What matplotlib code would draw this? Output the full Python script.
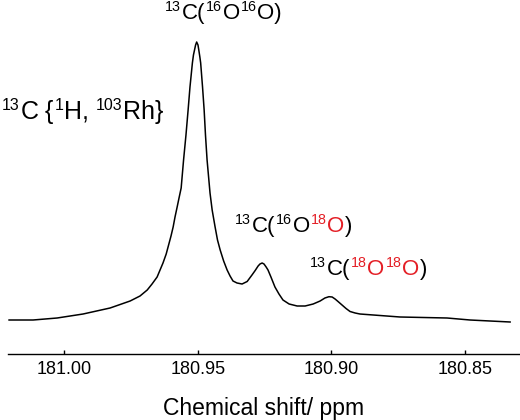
import matplotlib
matplotlib.use("Agg")
import matplotlib.pyplot as plt
from matplotlib.transforms import IdentityTransform

plt.rcParams['font.family'] = ['Liberation Sans', 'DejaVu Sans']

# 13C{1H,103Rh} spectrum, values
shift_ppm = [181.0206, 181.0116, 181.0026, 180.9929, 180.9828, 180.9753, 180.9716,
             180.9689, 180.9671, 180.9652, 180.9641, 180.9630, 180.9618, 180.9611,
             180.9600, 180.9592, 180.9585, 180.9577, 180.9570, 180.9562, 180.9553,
             180.9544, 180.9536, 180.9529, 180.9520, 180.9516, 180.9512, 180.9508,
             180.9504, 180.9499, 180.9496, 180.9492, 180.9489, 180.9482, 180.9476,
             180.9471, 180.9465, 180.9459, 180.9454, 180.9446, 180.9435, 180.9426,
             180.9416, 180.9403, 180.9390, 180.9379, 180.9368, 180.9353, 180.9334,
             180.9315, 180.9297, 180.9285, 180.9274, 180.9267, 180.9259, 180.9252,
             180.9244, 180.9237, 180.9226, 180.9211, 180.9196, 180.9181, 180.9158,
             180.9128, 180.9098, 180.9068, 180.9042, 180.9024, 180.9009, 180.8997,
             180.8986, 180.8975, 180.8960, 180.8945, 180.8930, 180.8911, 180.8893,
             180.8818, 180.8743, 180.8567, 180.8481, 180.8331]
intensity = [0, 0, 2, 6, 12, 19, 24,
             30, 36, 43, 50, 57, 66, 73,
             84, 93, 103, 113, 122, 132, 160,
             185, 210, 233, 257, 265, 270, 275,
             278, 275, 270, 263, 257, 233, 210,
             185, 160, 142, 127, 110, 93, 80,
             70, 59, 50, 44, 39, 37, 36,
             38.5, 45, 49.5, 54, 56, 57, 56,
             53, 50, 43, 33, 26, 20, 16,
             14, 14, 16, 19, 22, 23.3, 23,
             21, 18.5, 15, 11.5, 8.5, 7, 6,
             4.5, 3, 2, 0, -2]

tick_ppm = [181.00, 180.95, 180.90, 180.85]

# label pieces: (text, colour, superscript)
BLACK, RED = 'black', '#e41f26'
lbl_main = [('13', BLACK, True), ('C(', BLACK, False), ('16', BLACK, True),
            ('O', BLACK, False), ('16', BLACK, True), ('O)', BLACK, False)]
lbl_mixed = [('13', BLACK, True), ('C(', BLACK, False), ('16', BLACK, True),
             ('O', BLACK, False), ('18', RED, True), ('O', RED, False), (')', BLACK, False)]
lbl_heavy = [('13', BLACK, True), ('C(', BLACK, False), ('18', RED, True),
             ('O', RED, False), ('18', RED, True), ('O', RED, False), (')', BLACK, False)]
lbl_decoupled = [('13', BLACK, True), ('C', BLACK, False), (' {', BLACK, False),
                 ('1', BLACK, True), ('H,', BLACK, False), (' 103', BLACK, True),
                 ('Rh}', BLACK, False)]


def rich_label(ax, x, y, pieces, size):
    """Write pieces one after another from a left/baseline anchor in data coords."""
    fig = ax.figure
    renderer = fig.canvas.get_renderer()
    px, py = ax.transData.transform((x, y))
    pt = fig.dpi / 72.0
    for text, color, sup in pieces:
        fs = size * 0.64 if sup else size
        if text.startswith(' '):
            px += 0.22 * size * pt
            text = text.lstrip()
        t = fig.text(px, py + (0.34 * size * pt if sup else 0), text, color=color,
                     fontsize=fs, transform=IdentityTransform(),
                     ha='left', va='baseline')
        px += t.get_window_extent(renderer).width + 0.04 * fs * pt


fig = plt.figure(figsize=(5.2, 4.2), dpi=100)
ax = fig.add_axes([8 / 520, 66 / 420, 512 / 520, 354 / 420])

ax.plot(shift_ppm, intensity, color='black', lw=1.1, solid_joinstyle='round')

ax.set_xlim(181.0210, 180.8294)
ax.set_ylim(-34, 320)
for side in ('top', 'left', 'right'):
    ax.spines[side].set_visible(False)
ax.spines['bottom'].set_linewidth(1.0)
ax.set_yticks([])
ax.set_xticks(tick_ppm)
ax.set_xticklabels([f"{v:.2f}" for v in tick_ppm])
ax.tick_params(axis='x', direction='in', length=3, width=1.0, pad=5, labelsize=13)
ax.set_xlabel('Chemical shift/ ppm', fontsize=16.5, labelpad=14)

rich_label(ax, 180.9622, 301, lbl_main, 16)
rich_label(ax, 180.9360, 88, lbl_mixed, 16)
rich_label(ax, 180.9080, 45, lbl_heavy, 16)
rich_label(ax, 181.0232, 201, lbl_decoupled, 18)

fig.savefig('out.png', dpi=100)
